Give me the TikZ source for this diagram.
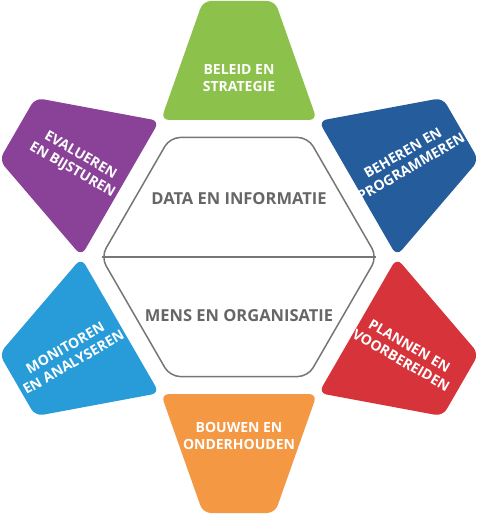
\documentclass[tikz,border=0pt]{standalone}
\usepackage{fontspec}
\setmainfont{Open Sans}
\usepackage{tikz}
\definecolor{leafgreen}{RGB}{140, 193, 76}
\definecolor{deepblue}{RGB}{36, 92, 156}
\definecolor{firered}{RGB}{214, 52, 58}
\definecolor{sunorange}{RGB}{245, 152, 68}
\definecolor{skyblue}{RGB}{40, 156, 216}
\definecolor{plum}{RGB}{138, 66, 152}
\definecolor{hexgray}{RGB}{118, 118, 118}
\definecolor{textgray}{RGB}{102, 102, 102}

\tikzset{
  petal/.style={rounded corners=8, draw=none},
  petaltext/.style={white, align=center, inner sep=1pt, font=\fontsize{14}{16.5}\selectfont\bfseries},
  hextext/.style={textgray, font=\fontsize{16.5}{18}\selectfont\bfseries}
}

\begin{document}
\begin{tikzpicture}[x=1pt, y=1pt]
  \useasboundingbox (-239, -259) rectangle (239, 257);

  % the six petals round the hexagon
  \fill[petal, leafgreen] (-78, 137) -- (78, 137) -- (36, 256) -- (-36, 256) -- cycle;
  \fill[petal, deepblue, rotate=-60] (-78, 137) -- (78, 137) -- (36, 256) -- (-36, 256) -- cycle;
  \fill[petal, firered, rotate=-120] (-78, 137) -- (78, 137) -- (36, 256) -- (-36, 256) -- cycle;
  \fill[petal, sunorange, rotate=180] (-78, 137) -- (78, 137) -- (36, 256) -- (-36, 256) -- cycle;
  \fill[petal, skyblue, rotate=120] (-78, 137) -- (78, 137) -- (36, 256) -- (-36, 256) -- cycle;
  \fill[petal, plum, rotate=60] (-78, 137) -- (78, 137) -- (36, 256) -- (-36, 256) -- cycle;

  \node[petaltext] (beleid) at (90:179) {BELEID EN\\STRATEGIE};
  \node[petaltext, rotate=30] (beheren) at (30:194) {BEHEREN EN\\PROGRAMMEREN};
  \node[petaltext, rotate=-30] (plannen) at (-30:192) {PLANNEN EN\\VOORBEREIDEN};
  \node[petaltext] (bouwen) at (-90:179) {BOUWEN EN\\ONDERHOUDEN};
  \node[petaltext, rotate=30] (monitoren) at (210:196) {MONITOREN\\EN ANALYSEREN};
  \node[petaltext, rotate=-30] (evalueren) at (150:188) {EVALUEREN\\EN BIJSTUREN};

  % hexagon in the middle
  \filldraw[draw=hexgray, fill=white, line width=1.5, rounded corners=10]
    (0:138) -- (60:138) -- (120:138) -- (180:138) -- (240:138) -- (300:138) -- cycle;
  \draw[hexgray, line width=1.5] (-137, 0) -- (137, 0);

  \node[hextext] (data) at (0, 58) {DATA EN INFORMATIE};
  \node[hextext] (mens) at (0, -59) {MENS EN ORGANISATIE};
\end{tikzpicture}
\end{document}
